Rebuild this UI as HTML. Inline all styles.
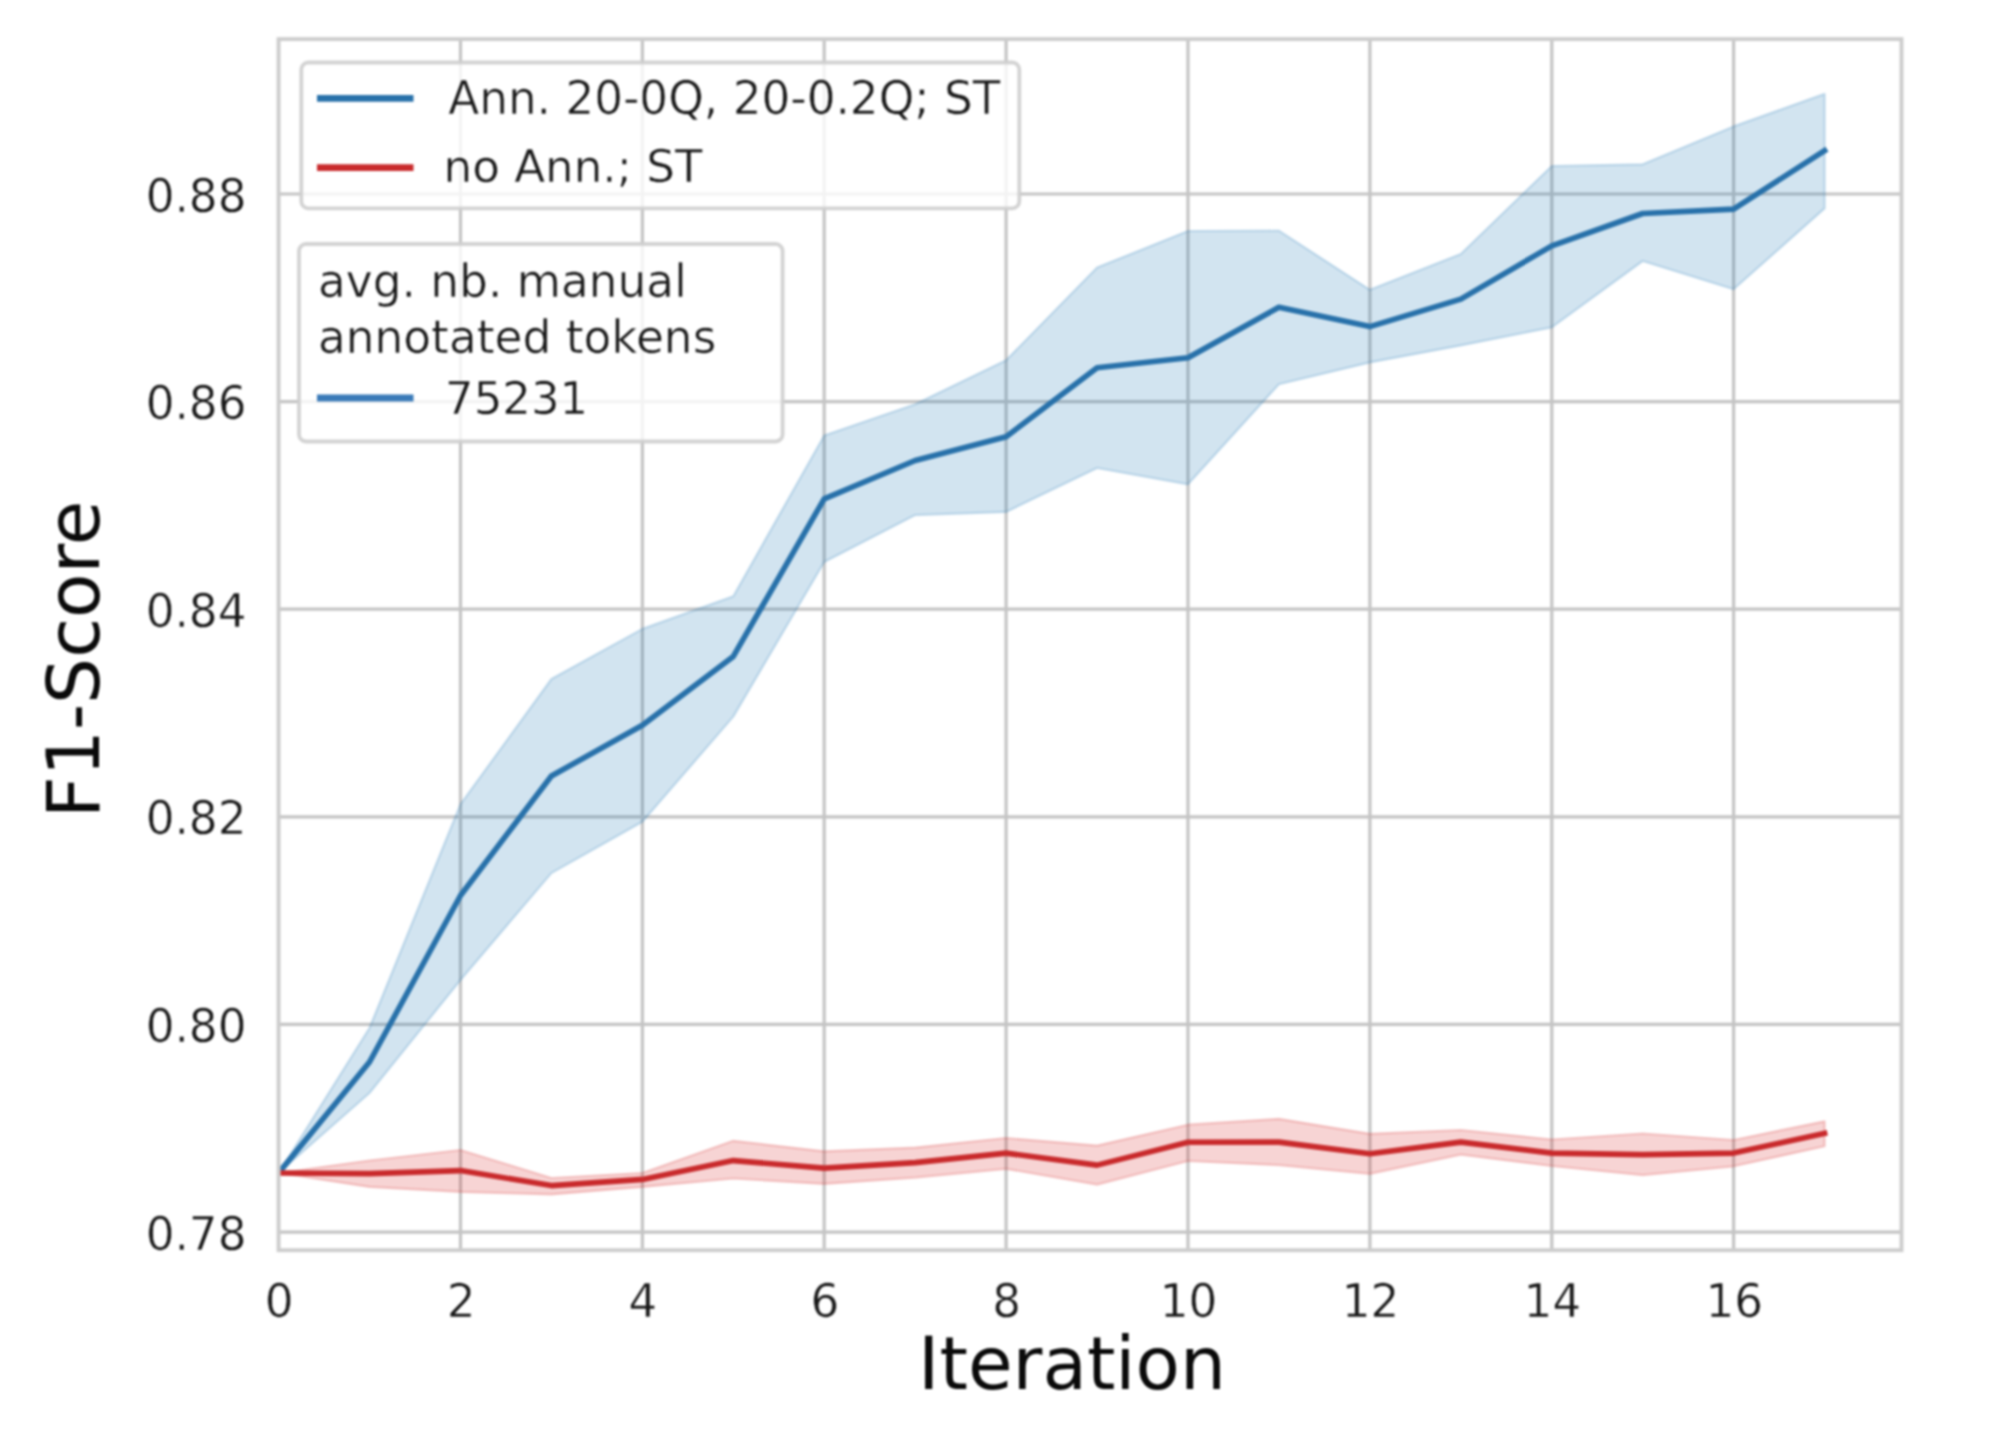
<!DOCTYPE html>
<html lang="en"><head><meta charset="utf-8"><title>F1-Score vs Iteration</title>
<style>html,body{margin:0;padding:0;background:#fff}body{width:1998px;height:1437px;overflow:hidden}svg{display:block;filter:blur(1px)}text{font-family:"DejaVu Sans","Liberation Sans",sans-serif;fill:#181818}.sm text,text.sm{stroke:#fff;stroke-width:0.55px;stroke-linejoin:round}</style></head><body>
<svg width="1998" height="1437" viewBox="0 0 1998 1437">
<rect x="0" y="0" width="1998" height="1437" fill="#ffffff"/>
<defs><clipPath id="ax"><rect x="278.6" y="39.1" width="1622.9" height="1211.1"/></clipPath></defs>
<g stroke="#c4c4c4" stroke-width="3.2" fill="none">
<line x1="460.5" y1="39.1" x2="460.5" y2="1250.2"/>
<line x1="642.4" y1="39.1" x2="642.4" y2="1250.2"/>
<line x1="824.2" y1="39.1" x2="824.2" y2="1250.2"/>
<line x1="1006.1" y1="39.1" x2="1006.1" y2="1250.2"/>
<line x1="1188.0" y1="39.1" x2="1188.0" y2="1250.2"/>
<line x1="1369.9" y1="39.1" x2="1369.9" y2="1250.2"/>
<line x1="1551.8" y1="39.1" x2="1551.8" y2="1250.2"/>
<line x1="1733.6" y1="39.1" x2="1733.6" y2="1250.2"/>
<line x1="278.6" y1="194.0" x2="1901.5" y2="194.0"/>
<line x1="278.6" y1="401.6" x2="1901.5" y2="401.6"/>
<line x1="278.6" y1="609.2" x2="1901.5" y2="609.2"/>
<line x1="278.6" y1="816.8" x2="1901.5" y2="816.8"/>
<line x1="278.6" y1="1024.4" x2="1901.5" y2="1024.4"/>
<line x1="278.6" y1="1232.05" x2="1901.5" y2="1232.05"/>
</g>
<polygon points="278.6,1173.0 369.5,1028.0 460.5,804.2 551.4,679.0 642.4,628.9 733.3,596.3 824.2,435.5 915.2,404.2 1006.1,360.3 1097.1,267.6 1188.0,231.0 1278.9,230.7 1369.9,289.8 1460.8,254.0 1551.8,166.0 1642.7,164.3 1733.6,126.4 1824.6,93.9 1824.6,208.4 1733.6,289.3 1642.7,261.0 1551.8,327.3 1460.8,345.4 1369.9,362.4 1278.9,384.2 1188.0,484.3 1097.1,468.0 1006.1,511.9 915.2,515.1 824.2,562.0 733.3,716.6 642.4,821.8 551.4,873.1 460.5,980.0 369.5,1093.0 278.6,1173.0" fill="#1f77b4" fill-opacity="0.2" stroke="#1f77b4" stroke-opacity="0.22" stroke-width="2.2" stroke-linejoin="round"/>
<polygon points="278.6,1173.0 369.5,1160.5 460.5,1150.0 551.4,1178.0 642.4,1173.0 733.3,1140.8 824.2,1151.3 915.2,1147.6 1006.1,1138.0 1097.1,1145.6 1188.0,1124.7 1278.9,1118.8 1369.9,1133.8 1460.8,1130.0 1551.8,1139.5 1642.7,1133.5 1733.6,1140.0 1824.6,1121.3 1824.6,1146.3 1733.6,1166.3 1642.7,1175.1 1551.8,1166.0 1460.8,1154.6 1369.9,1173.8 1278.9,1165.1 1188.0,1161.0 1097.1,1184.6 1006.1,1168.8 915.2,1177.6 824.2,1183.9 733.3,1178.5 642.4,1186.9 551.4,1194.4 460.5,1191.9 369.5,1186.9 278.6,1173.0" fill="#d62728" fill-opacity="0.2" stroke="#d62728" stroke-opacity="0.22" stroke-width="2.2" stroke-linejoin="round"/>
<polyline clip-path="url(#ax)" points="278.6,1173.0 369.5,1062.0 460.5,895.5 551.4,776.0 642.4,725.3 733.3,656.4 824.2,498.8 915.2,460.5 1006.1,436.7 1097.1,367.8 1188.0,357.8 1278.9,307.3 1369.9,326.6 1460.8,299.1 1551.8,245.8 1642.7,213.5 1733.6,209.1 1824.6,150.7" fill="none" stroke="#2871aa" stroke-width="5.6" stroke-linejoin="round" stroke-linecap="square"/>
<polyline clip-path="url(#ax)" points="278.6,1173.0 369.5,1173.6 460.5,1170.6 551.4,1185.6 642.4,1179.4 733.3,1160.6 824.2,1168.1 915.2,1162.6 1006.1,1153.1 1097.1,1165.1 1188.0,1142.3 1278.9,1142.1 1369.9,1153.8 1460.8,1142.1 1551.8,1153.1 1642.7,1154.6 1733.6,1153.1 1824.6,1133.3" fill="none" stroke="#c92a2c" stroke-width="5.6" stroke-linejoin="round" stroke-linecap="square"/>
<rect x="278.6" y="39.1" width="1622.9" height="1211.1" fill="none" stroke="#cdcdcd" stroke-width="3.9"/>
<g class="sm" font-size="45.3px">
<text x="246.5" y="211.5" text-anchor="end">0.88</text>
<text x="246.5" y="419.1" text-anchor="end">0.86</text>
<text x="246.5" y="626.7" text-anchor="end">0.84</text>
<text x="246.5" y="834.3" text-anchor="end">0.82</text>
<text x="246.5" y="1041.9" text-anchor="end">0.80</text>
<text x="246.5" y="1249.5" text-anchor="end">0.78</text>
<text x="279.2" y="1316.5" text-anchor="middle">0</text>
<text x="461.1" y="1316.5" text-anchor="middle">2</text>
<text x="643.0" y="1316.5" text-anchor="middle">4</text>
<text x="824.8" y="1316.5" text-anchor="middle">6</text>
<text x="1006.7" y="1316.5" text-anchor="middle">8</text>
<text x="1188.6" y="1316.5" text-anchor="middle">10</text>
<text x="1370.5" y="1316.5" text-anchor="middle">12</text>
<text x="1552.4" y="1316.5" text-anchor="middle">14</text>
<text x="1734.2" y="1316.5" text-anchor="middle">16</text>
</g>
<text x="1072" y="1389" text-anchor="middle" font-size="72.6px" style="fill:#0a0a0a">Iteration</text>
<text transform="translate(99.3,659.3) rotate(-90)" text-anchor="middle" font-size="72.6px" style="fill:#0a0a0a">F1-Score</text>
<rect x="301.3" y="62.5" width="718" height="145.8" rx="7" ry="7" fill="#ffffff" fill-opacity="0.8" stroke="#cecece" stroke-opacity="0.9" stroke-width="3.8"/>
<line x1="317" y1="98.3" x2="413.5" y2="98.3" stroke="#2871aa" stroke-width="6.8" stroke-linecap="butt"/>
<line x1="317" y1="167.6" x2="413.5" y2="167.6" stroke="#c92a2c" stroke-width="6.8" stroke-linecap="butt"/>
<text class="sm" x="448.2" y="114.3" font-size="45.3px">Ann. 20-0Q, 20-0.2Q; ST</text>
<text class="sm" x="443.5" y="181.9" font-size="45.2px">no Ann.; ST</text>
<rect x="299" y="244" width="483.6" height="197.5" rx="7" ry="7" fill="#ffffff" fill-opacity="0.8" stroke="#cecece" stroke-opacity="0.9" stroke-width="3.8"/>
<text class="sm" x="318" y="296.9" font-size="45.4px">avg. nb. manual</text>
<text class="sm" x="318" y="353" font-size="45.4px">annotated tokens</text>
<line x1="317" y1="398" x2="413.5" y2="398" stroke="#3a7ab8" stroke-width="6.8"/>
<text class="sm" x="445" y="413.8" font-size="45px">75231</text>
</svg></body></html>
